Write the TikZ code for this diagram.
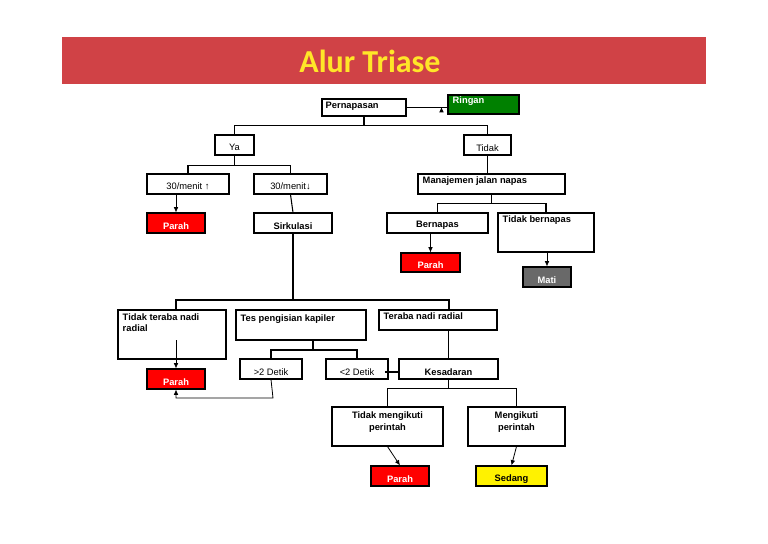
\documentclass[tikz,border=0pt]{standalone}
\usepackage{fontspec}
\setmainfont{Liberation Sans}
\newfontfamily\titlefont{Carlito}
\usetikzlibrary{fit,arrows.meta}
\begin{document}
\begin{tikzpicture}[x=0.75pt,y=-0.75pt,
  box/.style={draw,line width=0.8pt,inner sep=0pt},
  txt/.style={font=\fontsize{7}{8.5}\selectfont\bfseries,inner sep=0pt,align=center},
  rtxt/.style={font=\fontsize{7}{8.5}\selectfont,inner sep=0pt},
  ln/.style={line width=0.8pt},
  arr/.style={line width=0.6pt,-{Latex[length=4pt,width=3.5pt]}}]
\useasboundingbox (0,0) rectangle (768,543);
\fill[fill={rgb,255:red,208;green,66;blue,70}] (62,37) rectangle (706,84);
\node[font=\titlefont\bfseries\fontsize{24}{26}\selectfont,text={rgb,255:red,255;green,230;blue,40}] (title) at (370,61) {Alur Triase};
% boxes
\node[box,fit={(322,99)(406,116)}] (pern) {};
\node[txt,anchor=north west] at ([shift={(4,3)}]pern.north west) {Pernapasan};
\node[box,fill={rgb,255:red,0;green,128;blue,0},fit={(448,95)(519,114)}] (ringan) {};
\node[txt,anchor=north west,text=white] at ([shift={(5,2)}]ringan.north west) {Ringan};
\node[box,fit={(215,135)(254,155)}] (ya) {};
\node[rtxt] at ([yshift=-2]ya.center) {Ya};
\node[box,fit={(464,135)(511,155)}] (tidak) {};
\node[rtxt] at ([yshift=-2]tidak.center) {Tidak};
\node[box,fit={(147,174)(229,194)}] (m1) {};
\node[rtxt] at ([yshift=-2]m1.center) {30/menit ↑};
\node[box,fit={(254,174)(327,194)}] (m2) {};
\node[rtxt] at ([yshift=-2]m2.center) {30/menit↓};
\node[box,fill=red,fit={(147,213)(205,233)}] (p1) {};
\node[txt,text=white] at ([yshift=-2]p1.center) {Parah};
\node[box,fit={(254,213)(332,233)}] (sirk) {};
\node[txt] at ([yshift=-2]sirk.center) {Sirkulasi};
\node[box,fit={(418,174)(565,194)}] (man) {};
\node[txt,anchor=north west] at ([shift={(5,3)}]man.north west) {Manajemen jalan napas};
\node[box,fit={(387,213)(488,233)}] (bern) {};
\node[txt] at ([yshift=-2]bern.center) {Bernapas};
\node[box,fit={(498,213)(594,252)}] (tbern) {};
\node[txt,anchor=north west] at ([shift={(5,3)}]tbern.north west) {Tidak bernapas};
\node[box,fill=red,fit={(401,253)(460,272)}] (p2) {};
\node[txt,text=white] at ([yshift=-2]p2.center) {Parah};
\node[box,fill={rgb,255:red,105;green,105;blue,105},fit={(523,267)(571,287)}] (mati) {};
\node[txt,text=white] at ([yshift=-2]mati.center) {Mati};
\node[box,fit={(118,310)(226,359)}] (tter) {};
\node[txt,anchor=north west,align=left] at ([shift={(5,4)}]tter.north west) {Tidak teraba nadi\\radial};
\node[box,fit={(236,310)(366,340)}] (tes) {};
\node[txt,anchor=north west] at ([shift={(5,5)}]tes.north west) {Tes pengisian kapiler};
\node[box,fit={(379,310)(497,330)}] (ter) {};
\node[txt,anchor=north west] at ([shift={(5,3)}]ter.north west) {Teraba nadi radial};
\node[box,fill=red,fit={(147,369)(205,389)}] (p3) {};
\node[txt,text=white] at ([yshift=-2]p3.center) {Parah};
\node[box,fit={(240,359)(302,379)}] (d1) {};
\node[rtxt] at ([yshift=-2]d1.center) {>2 Detik};
\node[box,fit={(326,359)(388,379)}] (d2) {};
\node[rtxt] at ([yshift=-2]d2.center) {<2 Detik};
\node[box,fit={(399,359)(498,379)}] (kes) {};
\node[txt] at ([yshift=-2]kes.center) {Kesadaran};
\node[box,fit={(332,407)(443,446)}] (tmen) {};
\node[txt,anchor=north] at ([yshift=-4]tmen.north) {Tidak mengikuti\\perintah};
\node[box,fit={(468,407)(565,446)}] (men) {};
\node[txt,anchor=north] at ([yshift=-4]men.north) {Mengikuti\\perintah};
\node[box,fill=red,fit={(371,466)(429,486)}] (p4) {};
\node[txt,text=white] at ([yshift=-2]p4.center) {Parah};
\node[box,fill=yellow,fit={(476,466)(547,486)}] (sed) {};
\node[txt] at ([yshift=-2]sed.center) {Sedang};
% connectors
\coordinate (ra) at (405,107);
\draw[arr] (ra) -- ([yshift=0]ringan.west |- ra) ++(-6,0);
\draw[ln] (pern.south) -- ++(0,9) -| (ya.north);
\draw[ln] (pern.south) ++(0,9) -| (tidak.north);
\draw[ln] (ya.south) -- ++(0,10) -| (m1.north);
\draw[ln] (ya.south) ++(0,10) -| (m2.north);
\draw[arr] (m1.south -| p1.north) -- (p1.north);
\draw[ln] (m2.south) -- (sirk.north);
\draw[ln] (tidak.south) -- (tidak.south |- man.north);
\draw[ln] (man.south) -- ++(0,9) -| (bern.north);
\draw[ln] (man.south) ++(0,9) -| (tbern.north);
\draw[arr] (bern.south -| p2.north) -- (p2.north);
\draw[arr] (mati.north |- tbern.south) -- (mati.north);
\draw[ln] (sirk.south) -- (293,300) -| (p1.north |- tter.north);
\draw[ln] (293,300) -| (ter.north -| 449,0);
\draw[arr] (176,340) -- (p3.north);
\draw[ln] (tes.south -| 313,0) -- (313,350) -| (d1.north);
\draw[ln] (313,350) -| (d2.north);
\draw[ln] (ter.south -| kes.north) -- (kes.north);
\draw[ln] (kes.west |- 0,372) -- (385,372);
\draw[arr] (d1.south) -- (273,398) -| (p3.south);
\draw[ln] (kes.south) -- ++(0,9) -| (tmen.north);
\draw[ln] (kes.south) ++(0,9) -| (men.north);
\draw[arr] (tmen.south) -- (p4.north);
\draw[arr] (men.south) -- (sed.north);
\end{tikzpicture}
\end{document}
